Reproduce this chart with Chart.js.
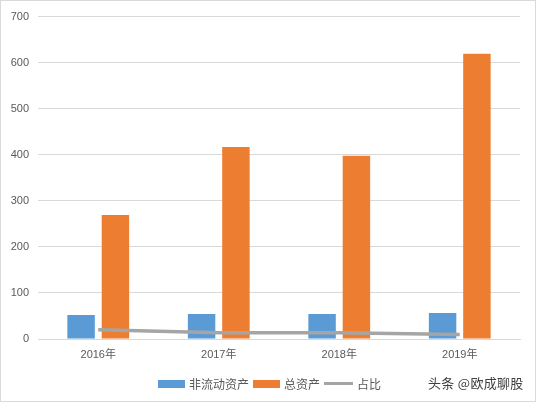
<!DOCTYPE html>
<html>
<head>
<meta charset="utf-8">
<script src="https://cdn.jsdelivr.net/npm/chart.js@4/dist/chart.umd.min.js"></script>
<style>
  html, body { margin: 0; padding: 0; background: #fff; }
  #wrap { position: relative; width: 536px; height: 402px; box-sizing: border-box; border: 1px solid #d9d9d9; overflow: hidden; }
  #c { position: absolute; left: -1px; top: -1px; }
  .leyenda { position: absolute; left: 157px; top: 374px; display: flex; align-items: center; font: 12px "Noto Sans CJK SC", sans-serif; color: #595959; }
  .caja { width: 27px; height: 8px; margin-right: 4px; }
  .linea { width: 29px; height: 3px; margin-right: 4px; }
  .item { display: flex; align-items: center; margin-right: 4px; }
  .marca { position: absolute; left: 427px; top: 372px; font: 13px "Noto Sans CJK SC", sans-serif; color: #404040; letter-spacing: 0.3px; }
</style>
</head>
<body>
<div id="wrap">
  <canvas id="c" width="536" height="402"></canvas>
  <div class="leyenda">
    <div class="item"><div class="caja" style="background:#5b9bd5"></div>非流动资产</div>
    <div class="item"><div class="caja" style="background:#ed7d31"></div>总资产</div>
    <div class="item"><div class="linea" style="background:#a5a5a5"></div>占比</div>
  </div>
  <div class="marca">头条 @欧成聊股</div>
</div>
<script>
// datos
const anios = ['2016年', '2017年', '2018年', '2019年'];
const noCorriente = [52, 54, 54, 56.5];
const total = [269, 417, 398, 619];
const proporcion = [20, 13.5, 13.5, 10];
const ticksY = [0, 100, 200, 300, 400, 500, 600, 700];

const colorAzul = '#5b9bd5';
const colorNaranja = '#ed7d31';
const colorGris = '#a5a5a5';
const colorRejilla = '#d9d9d9';
const colorTexto = '#595959';

new Chart(document.getElementById('c'), {
    type: 'bar',
    data: {
        labels: anios,
        datasets: [
            {
                type: 'line',
                label: '占比',
                data: proporcion,
                borderColor: colorGris,
                borderWidth: 3.5,
                pointRadius: 0,
                tension: 0,
                order: 0
            },
            {
                label: '非流动资产',
                data: noCorriente,
                backgroundColor: colorAzul,
                order: 1
            },
            {
                label: '总资产',
                data: total,
                backgroundColor: colorNaranja,
                order: 1
            }
        ]
    },
    options: {
        responsive: false,
        animation: false,
        datasets: {
            bar: { categoryPercentage: 0.57, barPercentage: 0.8, grouped: true }
        },
        layout: { padding: { top: 16.5, right: 16, bottom: 33, left: 0 } },
        plugins: {
            legend: { display: false },
            tooltip: { enabled: false }
        },
        scales: {
            x: {
                grid: { display: false, drawTicks: false },
                border: { color: colorRejilla, width: 1 },
                ticks: { color: colorTexto, font: { family: '"Liberation Sans", "Noto Sans CJK SC"', size: 11 }, padding: 9 },
                afterFit: (s) => { s.height = 30; }
            },
            y: {
                min: 0,
                max: 700,
                afterBuildTicks: (s) => { s.ticks = ticksY.map(v => ({ value: v })); },
                grid: { color: colorRejilla, drawTicks: false },
                border: { display: false },
                ticks: { color: colorTexto, font: { family: '"Liberation Sans"', size: 11 }, padding: 9 },
                afterFit: (s) => { s.width = 38; }
            }
        }
    }
});
</script>
</body>
</html>
